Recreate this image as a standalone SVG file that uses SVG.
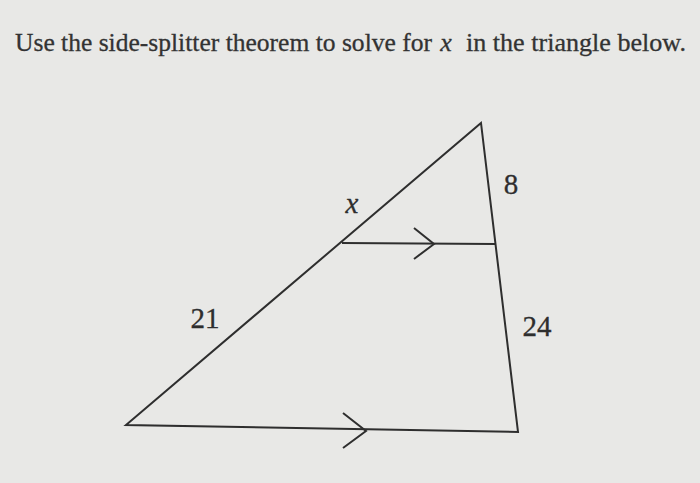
<svg xmlns="http://www.w3.org/2000/svg" width="700" height="483" viewBox="0 0 700 483">
<style>
.ln{stroke:#2e2e2e;stroke-width:2;fill:none;stroke-linejoin:miter}
.lbl{font-family:"Liberation Serif","DejaVu Serif",serif;fill:#2e2e2e;font-size:29px;stroke:#2e2e2e;stroke-width:0.3}
.ttl{font-family:"Liberation Serif","DejaVu Serif",serif;fill:#333333;font-size:26px;stroke:#333333;stroke-width:0.3}
</style>
<rect width="700" height="483" fill="#e8e8e6"/>
<g id="title">
<text class="ttl" x="15" y="51" textLength="417" lengthAdjust="spacingAndGlyphs">Use the side-splitter theorem to solve for</text>
<text class="ttl" x="446" y="51" text-anchor="middle" font-style="italic" font-size="28">x</text>
<text class="ttl" x="466" y="51" textLength="220" lengthAdjust="spacingAndGlyphs">in the triangle below.</text>
</g>
<g id="connectors">
<polygon class="ln" points="481,123 518,432 126,425"/>
<line class="ln" x1="342" y1="243" x2="495" y2="244"/>
<polyline class="ln" points="414,228 434,244 414,259"/>
<polyline class="ln" points="343,413 366,431 343,448"/>
</g>
<g id="labels">
<text class="lbl" x="511" y="194" text-anchor="middle">8</text>
<text class="lbl" x="352" y="213" text-anchor="middle" font-style="italic">x</text>
<text class="lbl" x="205" y="328" text-anchor="middle" font-size="27">21</text>
<text class="lbl" x="537" y="336" text-anchor="middle">24</text>
</g>
</svg>
